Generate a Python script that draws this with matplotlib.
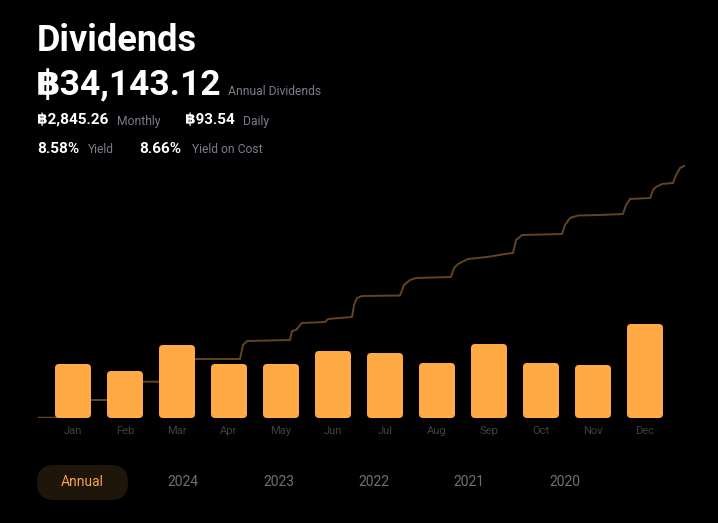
import matplotlib
matplotlib.use("Agg")
import matplotlib.pyplot as plt
from matplotlib.patches import FancyBboxPatch

# ---------------- data ----------------
months = ["Jan", "Feb", "Mar", "Apr", "May", "Jun", "Jul", "Aug", "Sep", "Oct", "Nov", "Dec"]
monthly_div = [2475, 2154, 3346, 2475, 2475, 3071, 2979, 2521, 3391, 2521, 2429, 4308]

# cumulative history line (months since start, cumulative index)
hist_t = [0, 4.45, 4.82, 9.27, 9.65, 14.1, 14.47, 18.73, 19.01, 19.38, 23.37, 23.56, 23.93,
          24.48, 26.62, 26.89, 29.12, 29.31, 29.58, 30.05, 33.57, 33.94, 34.5, 35.06, 38.30,
          38.58, 38.95, 39.88, 41.64, 43.31, 44.05, 44.33, 44.89, 48.6, 48.87, 49.34, 50.08,
          52.12, 54.25, 54.53, 54.9, 56.76, 57.04, 57.31, 57.87, 58.89, 59.17, 59.54, 60]
hist_v = [0.3, 0.3, 18, 18, 36.3, 36.3, 59, 59, 73, 77, 78, 87, 88, 95, 96, 99, 101, 113, 120,
          122, 122.5, 133, 138, 140, 141, 150, 154, 159, 161, 164, 165, 178, 183, 184, 193,
          200, 202.5, 203, 204, 213, 219, 220, 228, 231, 234, 235, 243, 250, 252.5]

title = "Dividends"
annual_value = "฿34,143.12"
annual_label = "Annual Dividends"
monthly_value, monthly_label = "฿2,845.26", "Monthly"
daily_value, daily_label = "฿93.54", "Daily"
yield_value, yield_label = "8.58%", "Yield"
yoc_value, yoc_label = "8.66%", "Yield on Cost"
tabs = ["Annual", "2024", "2023", "2022", "2021", "2020"]

# ---------------- style ----------------
W, H = 718, 523
BG = "#000000"
BAR = "#FFAA45"
LINE = "#634422"
GRAY = "#7c7c8a"
FAM = ["Roboto", "DejaVu Sans"]

fig = plt.figure(figsize=(W / 100, H / 100), dpi=100, facecolor=BG)

# overlay axes in pixel coordinates for text & decorations
ov = fig.add_axes([0, 0, 1, 1], zorder=0)
ov.set_xlim(0, W)
ov.set_ylim(H, 0)
ov.axis("off")
ov.set_facecolor(BG)

# main bar axes
L, R, B, T = 38, 685, 418, 160
ax = fig.add_axes([L / W, 1 - B / H, (R - L) / W, (B - T) / H], zorder=2)
ax.set_facecolor("none")
x = list(range(len(months)))
xmin, xmax = (38 - 73) / 52, (685 - 73) / 52
ax.set_xlim(xmin, xmax)
ymax = 11824
ax.set_ylim(0, ymax)
for s in ax.spines.values():
    s.set_visible(False)
ax.set_yticks([])
ax.set_xticks(x)
ax.set_xticklabels(months, color="#404046", fontsize=8, family=FAM)
ax.tick_params(axis="x", length=0, pad=6)

# line axes (behind bars)
lx = fig.add_axes(ax.get_position(), zorder=1)
lx.set_facecolor("none")
lx.axis("off")
lx.plot(hist_t, hist_v, color=LINE, lw=1.4, solid_capstyle="round", solid_joinstyle="round")
lx.set_xlim(0, 60)
lx.set_ylim(0, 258)

bars = ax.bar(x, monthly_div, width=36 / 52, color=BAR)
xu = (xmax - xmin) / (R - L)
yu = ymax / (B - T)
for b in bars:
    bx, by, bw, bh = b.get_x(), b.get_y(), b.get_width(), b.get_height()
    b.remove()
    p = FancyBboxPatch((bx, by), bw, bh,
                       boxstyle=f"round,pad=0,rounding_size={4 * xu}",
                       mutation_aspect=yu / xu, fc=BAR, ec="none")
    ax.add_patch(p)

# ---------------- header text ----------------
ov.text(37, 51, title, color="white", fontsize=26, fontweight="bold", family=FAM, va="baseline")
ov.text(36, 95, annual_value, color="white", fontsize=25.5, fontweight="bold", family=FAM, va="baseline")
ov.text(228, 95, annual_label, color=GRAY, fontsize=8.7, family=FAM, va="baseline")

ov.text(37, 124.5, monthly_value, color="white", fontsize=11, fontweight="bold", family=FAM, va="baseline")
ov.text(117, 124.5, monthly_label, color=GRAY, fontsize=8.7, family=FAM, va="baseline")
ov.text(185, 124.5, daily_value, color="white", fontsize=11, fontweight="bold", family=FAM, va="baseline")
ov.text(243, 124.5, daily_label, color=GRAY, fontsize=8.7, family=FAM, va="baseline")

ov.text(37, 153, yield_value, color="white", fontsize=11, fontweight="bold", family=FAM, va="baseline")
ov.text(88, 153, yield_label, color=GRAY, fontsize=8.7, family=FAM, va="baseline")
ov.text(139, 153, yoc_value, color="white", fontsize=11, fontweight="bold", family=FAM, va="baseline")
ov.text(192, 153, yoc_label, color=GRAY, fontsize=8.7, family=FAM, va="baseline")

# ---------------- tabs ----------------
pill = FancyBboxPatch((37, 465), 91, 35, boxstyle="round,pad=0,rounding_size=17",
                      fc="#1e150b", ec="none")
ov.add_patch(pill)
tab_x = [82, 183, 279, 374, 469, 565]
for i, (tx, lab) in enumerate(zip(tab_x, tabs)):
    ov.text(tx, 482, lab, color="#f5a445" if i == 0 else "#6f6f7c", fontsize=10,
            family=FAM, ha="center", va="center")

fig.savefig("out.png", dpi=100, facecolor=BG)
